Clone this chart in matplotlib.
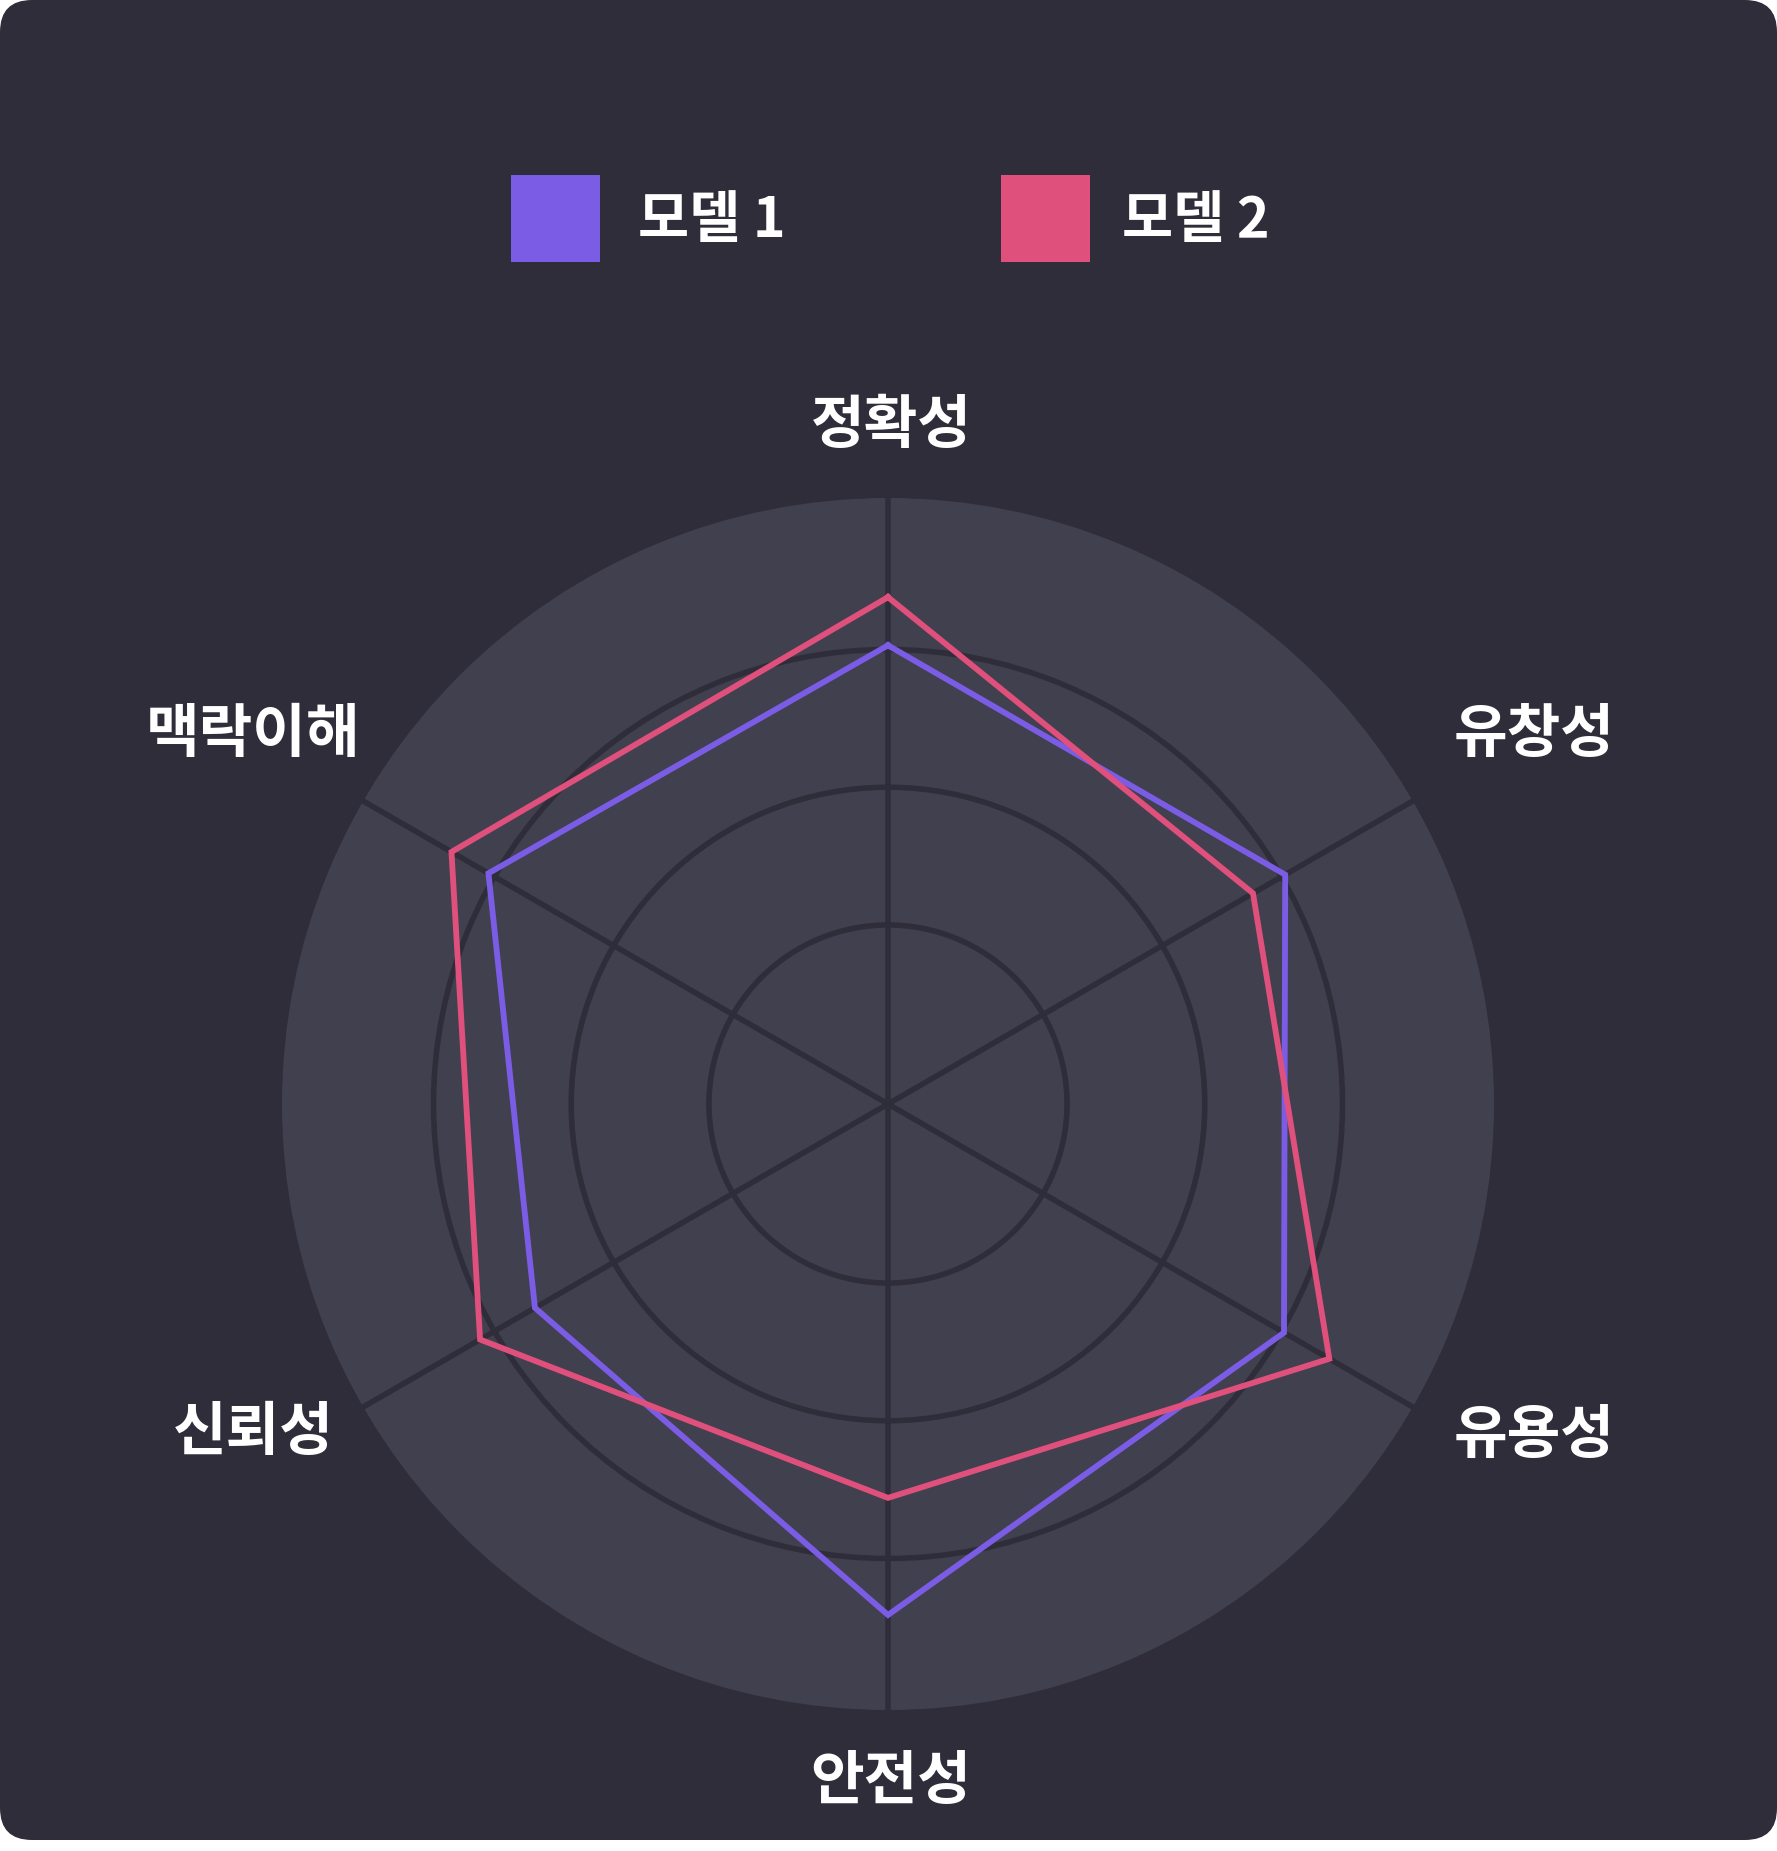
import numpy as np
import matplotlib.pyplot as plt
from matplotlib.patches import FancyBboxPatch, Rectangle
from matplotlib.transforms import IdentityTransform

plt.rcParams['font.family'] = ['Noto Sans CJK KR', 'DejaVu Sans']

categories = ['정확성', '유창성', '유용성', '안전성', '신뢰성', '맥락이해']
model1 = [90.3, 90.3, 90.2, 94.1, 86.6, 90.5]
model2 = [93.8, 87.6, 94.0, 85.6, 91.2, 93.6]
series_names = ['모델 1', '모델 2']
series_colors = ['#7b5ce5', '#df507c']
r_ticks = [70, 80, 90]
r_min, r_max = 57, 101

BG = '#2f2d39'
PLOT_BG = '#41404e'
GRID = '#2f2d39'

W, H = 1777, 1851
fig = plt.figure(figsize=(W / 100, H / 100), dpi=100)
fig.patch.set_facecolor('white')

# rounded dark card
card = FancyBboxPatch((0, 11), W, H - 11, boxstyle='round,pad=0,rounding_size=32',
                      transform=IdentityTransform(), facecolor=BG, edgecolor='none', zorder=0)
fig.add_artist(card)

# polar axes, centre (888, 1104) px from top-left
cx, cy, Rx, Ry = 888, 1104, 606, 609
ax = fig.add_axes([(cx - Rx) / W, (H - cy - Ry) / H, 2 * Rx / W, 2 * Ry / H], projection='polar')
ax.set_theta_zero_location('N')
ax.set_theta_direction(-1)
ax.set_facecolor(PLOT_BG)
ax.set_ylim(r_min, r_max)

angles = np.linspace(0, 2 * np.pi, len(categories), endpoint=False)
ax.set_xticks(angles)
ax.set_xticklabels([])
ax.set_yticks(r_ticks)
ax.set_yticklabels([])
ax.grid(True, color=GRID, linewidth=4)
ax.spines['polar'].set_visible(False)
ax.tick_params(length=0)

closed = np.append(angles, angles[0])
for vals, name, col in zip([model1, model2], series_names, series_colors):
    v = np.append(vals, vals[0])
    ax.plot(closed, v, color=col, linewidth=4.2, solid_joinstyle='miter', zorder=3)

# category labels, centre positions in px (from top-left)
label_xy = [(891, 426), (1534, 735), (1534, 1436), (891, 1782), (253, 1433), (253, 735)]
for lab, (lx, ly) in zip(categories, label_xy):
    fig.text(lx / W, 1 - ly / H, lab, ha='center', va='center', color='white',
             fontsize=42, fontweight='bold')

# legend
sq_x = [511, 1001]
txt_x = [638, 1122]
for name, col, sx, tx in zip(series_names, series_colors, sq_x, txt_x):
    fig.add_artist(Rectangle((sx, H - 262), 89, 87, transform=IdentityTransform(),
                             facecolor=col, edgecolor='none'))
    fig.text(tx / W, 1 - 221 / H, name, ha='left', va='center', color='white',
             fontsize=40, fontweight='bold')

fig.savefig('out.png', dpi=100, facecolor=fig.get_facecolor())
